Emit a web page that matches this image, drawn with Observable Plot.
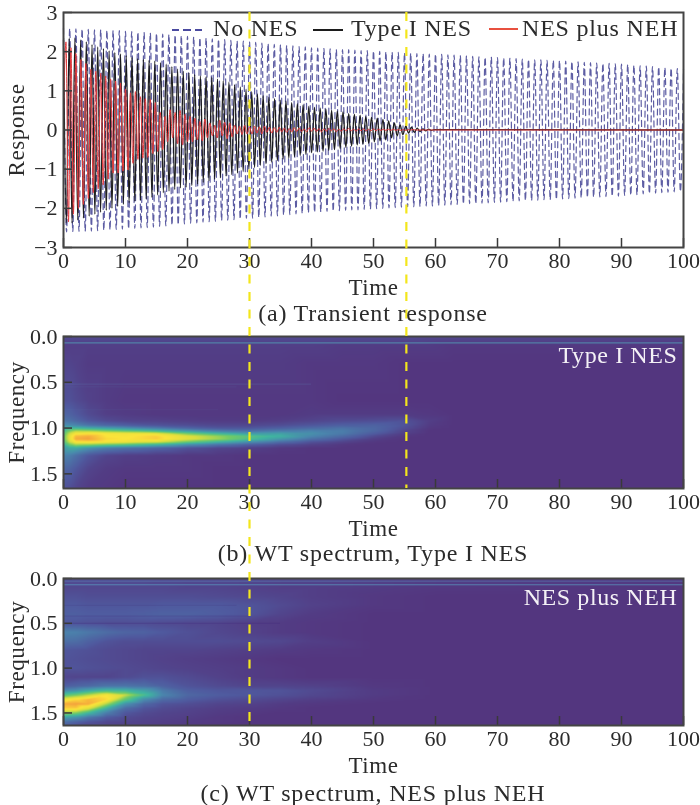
<!DOCTYPE html>
<html><head><meta charset="utf-8">
<script src="https://cdn.jsdelivr.net/npm/d3@7"></script>
<script src="https://cdn.jsdelivr.net/npm/@observablehq/plot@0.6"></script>
<style>
html,body{margin:0;padding:0;background:#fff}
#page{position:relative;width:700px;height:805px;overflow:hidden;font-family:"Liberation Serif",serif;color:#2b2b2b;filter:blur(.35px)}
#page svg{position:absolute;left:0;background:transparent;overflow:visible}
.cap,.leg{position:absolute;white-space:nowrap;font-size:24px;letter-spacing:.8px;line-height:26px}
.cap{left:373px;transform:translateX(-50%)}
.sw{position:absolute;height:1.6px}
</style></head><body><div id="page"></div>
<script>
const xTicks=[0,10,20,30,40,50,60,70,80,90,100];
const responseTicks=[-3,-2,-1,0,1,2,3];
const freqTicks=[0,0.5,1,1.5];
const guideLines=[{x:30,top:12,bottom:722},{x:55.3,top:12,bottom:488}];

const tNoNes=[0,.5,1,1.5,2,2.5,3,3.5,4,4.5,5,5.5,6,6.5,7,7.5,8,8.5,9,9.5,10,10.5,11,11.5,12,12.5,13,13.5,14,14.5,15,15.5,16,16.5,17,17.5,18,18.5,19,19.5,20,20.5,21,21.5,22,22.5,23,23.5,24,24.5,25,25.5,26,26.5,27,27.5,28,28.5,29,29.5,30,30.5,31,31.5,32,32.5,33,33.5,34,34.5,35,35.5,36,36.5,37,37.5,38,38.5,39,39.5,40,40.5,41,41.5,42,42.5,43,43.5,44,44.5,45,45.5,46,46.5,47,47.5,48,48.5,49,49.5,50,50.5,51,51.5,52,52.5,53,53.5,54,54.5,55,55.5,56,56.5,57,57.5,58,58.5,59,59.5,60,60.5,61,61.5,62,62.5,63,63.5,64,64.5,65,65.5,66,66.5,67,67.5,68,68.5,69,69.5,70,70.5,71,71.5,72,72.5,73,73.5,74,74.5,75,75.5,76,76.5,77,77.5,78,78.5,79,79.5,80,80.5,81,81.5,82,82.5,83,83.5,84,84.5,85,85.5,86,86.5,87,87.5,88,88.5,89,89.5,90,90.5,91,91.5,92,92.5,93,93.5,94,94.5,95,95.5,96,96.5,97,97.5,98,98.5,99,99.5,100];
const noNes=[2.6,-2.6,2.59,-2.59,2.58,-2.59,2.58,-2.58,2.57,-2.58,2.56,-2.57,2.56,-2.56,2.55,-2.55,2.54,-2.54,2.54,-2.53,2.52,
-2.52,2.51,-2.51,2.5,-2.5,2.49,-2.49,2.48,-2.48,2.47,-2.46,2.45,-2.45,2.44,-2.43,2.43,-2.42,2.41,-2.4,2.39,
-2.38,2.38,-2.37,2.36,-2.35,2.35,-2.34,2.33,-2.33,2.32,-2.31,2.31,-2.3,2.29,-2.29,2.28,-2.27,2.27,-2.26,2.25,
-2.25,2.24,-2.23,2.22,-2.22,2.21,-2.2,2.19,-2.19,2.18,-2.17,2.16,-2.16,2.15,-2.14,2.13,-2.13,2.12,-2.11,2.1,
-2.1,2.09,-2.09,2.08,-2.08,2.07,-2.07,2.06,-2.06,2.05,-2.05,2.05,-2.04,2.04,-2.04,2.03,-2.03,2.03,-2.02,2.02,
-2.01,2.01,-2,2,-1.99,1.99,-1.98,1.98,-1.97,1.97,-1.96,1.96,-1.96,1.95,-1.95,1.95,-1.94,1.94,-1.94,1.94,
-1.93,1.93,-1.92,1.92,-1.91,1.91,-1.9,1.9,-1.89,1.89,-1.88,1.88,-1.88,1.87,-1.87,1.86,-1.86,1.86,-1.85,1.85,
-1.84,1.84,-1.83,1.83,-1.82,1.82,-1.81,1.81,-1.8,1.8,-1.8,1.79,-1.79,1.79,-1.78,1.78,-1.78,1.78,-1.77,1.77,
-1.76,1.76,-1.75,1.75,-1.74,1.74,-1.73,1.73,-1.72,1.72,-1.71,1.71,-1.71,1.7,-1.7,1.7,-1.69,1.69,-1.69,1.68,
-1.67,1.67,-1.66,1.65,-1.65,1.64,-1.63,1.63,-1.62,1.62,-1.61,1.61,-1.6,1.59,-1.59,1.58,-1.58,1.57,-1.57,1.56];

const tTypeI=[0,.46,.92,1.38,1.84,2.3,2.76,3.22,3.68,4.14,4.6,5.06,5.52,5.98,6.44,6.9,7.36,7.82,8.28,8.74,9.2,9.66,10.12,10.58,11.04,11.5,11.96,12.42,12.88,13.34,13.8,14.26,14.72,15.18,15.64,16.1,16.56,17.02,17.48,17.94,18.4,18.86,19.32,19.78,20.24,20.7,21.16,21.62,22.08,22.54,23,23.46,23.92,24.38,24.84,25.3,25.76,26.22,26.68,27.14,27.6,28.06,28.52,28.98,29.44,29.9,30.36,30.82,31.28,31.74,32.2,32.66,33.12,33.58,34.04,34.5,34.96,35.42,35.88,36.34,36.8,37.26,37.72,38.18,38.64,39.1,39.56,40.02,40.48,40.94,41.4,41.86,42.32,42.78,43.24,43.7,44.16,44.62,45.08,45.54,46,46.46,46.92,47.38,47.84,48.3,48.76,49.22,49.68,50.14,50.6,51.06,51.52,51.98,52.44,52.9,53.36,53.82,54.28,54.74,55.2,55.66,56.12,56.58,57.04,57.5,57.96,58.42,58.88,59.34,59.8,100];
const typeI=[2.3,-2.38,2.34,-2.38,2.35,-2.3,2.3,-2.25,2.25,-2.2,2.18,-2.15,2.12,-2.1,2.08,-2.05,2.02,-2,1.98,-1.95,1.94,-1.9,
1.9,-1.86,1.86,-1.82,1.82,-1.8,1.8,-1.76,1.78,-1.72,1.76,-1.66,1.72,-1.6,1.68,-1.56,1.62,-1.52,1.56,-1.48,1.5,-1.46,
1.46,-1.42,1.42,-1.38,1.38,-1.34,1.36,-1.3,1.34,-1.26,1.3,-1.22,1.26,-1.18,1.22,-1.14,1.16,-1.1,1.1,-1.06,1.04,-1,
.98,-.96,.92,-.9,.88,-.86,.84,-.82,.8,-.78,.76,-.74,.74,-.72,.7,-.68,.67,-.65,.64,-.62,.6,-.58,
.58,-.56,.56,-.54,.53,-.52,.5,-.5,.48,-.47,.46,-.44,.42,-.41,.4,-.38,.38,-.36,.35,-.34,.32,-.3,
.3,-.28,.27,-.25,.23,-.2,.18,-.15,.13,-.12,.1,-.08,.07,-.06,.05,-.04,.03,-.02,.02,-.01,.01,0];

const tNeh=[0,.4,.8,1.2,1.6,2,2.4,2.8,3.2,3.6,4,4.4,4.8,5.2,5.6,6,6.4,6.8,7.2,7.6,8,8.4,8.8,9.2,9.6,10,10.4,10.8,11.2,11.6,12,12.4,12.8,13.2,13.6,14,14.4,14.8,15.2,15.6,16,16.4,16.8,17.2,17.6,18,18.4,18.8,19.2,19.6,20,20.4,20.8,21.2,21.6,22,22.4,22.8,23.2,23.6,24,24.4,24.8,25.2,25.6,26,26.4,26.8,27.2,27.6,28,28.4,28.8,29.2,29.6,30,30.4,30.8,31.2,31.6,32,32.4,32.8,33.2,33.6,34,34.4,34.8,35.2,35.6,36,36.4,36.8,37.2,37.6,38,38.4,38.8,39.2,39.6,40,40.4,40.8,41.2,41.6,42,42.4,42.8,43.2,43.6,44,44.4,44.8,45.2,45.6,46,46.4,46.8,47.2,47.6,48,48.4,48.8,49.2,49.6,50,50.4,50.8,51.2,51.6,52,52.4,52.8,53.2,53.6,54,54.4,54.8,55.2,55.6,56,56.4,56.8,57.2,57.6,58,58.4,58.8,59.2,59.6,60,100];
const neh=[.4,2.25,-2.35,2.1,-2.15,1.95,-2,1.8,-1.9,1.7,-1.75,1.55,-1.6,1.5,-1.5,1.45,-1.4,1.38,-1.25,1.3,-1.1,1.25,-1.1,1.2,-1.05,1.05,
-1.02,.95,-.85,.98,-.75,.85,-.72,.8,-.7,.78,-.6,.7,-.55,.45,-.5,.35,-.3,.52,-.2,.45,-.35,.5,-.38,.4,-.3,
.35,-.3,.3,-.25,.22,-.28,.28,-.2,.18,-.15,.12,-.2,.25,-.15,.2,-.22,.18,-.18,.12,-.1,.1,-.12,.12,-.1,.08,
-.1,.1,-.08,.08,-.1,.1,-.06,.07,-.08,.06,-.06,.07,-.05,.05,-.06,.04,-.05,.06,-.04,.05,-.04,.03,-.05,.06,-.03,
.05,-.04,.04,-.05,.03,-.03,.04,-.02,.03,-.04,.02,-.03,.03,-.02,.04,-.02,.02,-.03,.03,-.02,.03,-.02,.02,-.02,.03,
-.02,.02,-.01,.02,-.01,.02,-.01,.02,-.01,.01,-.01,.01,-.01,.01,0,.01,0,0,0,0,0,0,0,0,0,0];

const heatStops=[0,.12,.28,.45,.6,.75,.88,1];
const heatColors=["#53367f","#4f5a9f","#4a86ad","#3fb5a0","#6fca68","#d8de3e","#fbe43a","#f4a23c"];

const wtTimeB=[0,1,2,4,7,10,15,20,25,30,35,40,45,50,55,59,63,100];
const wtFreqB=[0,.1,.3,.7,.85,.92,.97,1,1.03,1.06,1.09,1.12,1.15,1.18,1.22,1.3,1.45,1.66];
const wtTypeI=[
[.07,.07,.07,.07,.07,.07,.07,.07,.07,.07,.07,.07,.07,.07,.07,.06,.06,.05],
[.03,.03,.03,.03,.03,.03,.03,.03,.03,.03,.03,.03,.02,.02,.02,.02,.01,.01],
[.05,.05,.04,.02,.02,.02,.02,.02,.02,.02,.02,.01,.01,.01,0,0,0,0],
[.09,.09,.07,.04,.02,.01,.01,.01,.01,.01,.01,.01,0,0,0,0,0,0],
[.16,.15,.12,.07,.03,.02,.01,.01,.01,.01,.01,.02,.02,.02,.02,.01,0,0],
[.22,.2,.17,.11,.07,.05,.04,.03,.02,.02,.03,.05,.07,.08,.09,.03,0,0],
[.3,.3,.28,.22,.17,.14,.1,.08,.06,.06,.08,.11,.14,.15,.1,.02,0,0],
[.38,.44,.46,.42,.37,.32,.24,.16,.11,.11,.14,.18,.21,.17,.08,.01,0,0],
[.46,.6,.68,.66,.6,.55,.46,.34,.24,.2,.24,.27,.25,.17,.05,0,0,0],
[.52,.74,.86,.88,.86,.84,.8,.6,.46,.36,.38,.32,.24,.13,.03,0,0,0],
[.56,.8,.96,.98,.88,.87,.92,.78,.66,.54,.44,.28,.18,.07,.01,0,0,0],
[.56,.8,.98,1,.9,.88,.92,.78,.66,.5,.34,.2,.11,.03,0,0,0,0],
[.52,.74,.88,.9,.86,.84,.78,.6,.46,.32,.2,.1,.05,.01,0,0,0,0],
[.44,.6,.68,.66,.6,.56,.46,.32,.22,.14,.08,.04,.01,0,0,0,0,0],
[.34,.4,.4,.32,.24,.2,.15,.09,.05,.03,.01,0,0,0,0,0,0,0],
[.26,.25,.2,.11,.05,.03,.02,.01,.01,0,0,0,0,0,0,0,0,0],
[.16,.15,.11,.05,.02,.01,.01,.01,0,0,0,0,0,0,0,0,0,0],
[.1,.08,.05,.02,.01,0,0,0,0,0,0,0,0,0,0,0,0,0]];

const wtTimeC=[0,2,4,7,10,13,16,20,25,30,35,40,50,60,100];
const wtFreqC=[0,.1,.2,.3,.4,.5,.6,.7,.8,.9,1,1.1,1.2,1.25,1.3,1.35,1.4,1.45,1.5,1.55,1.6,1.66];
const wtNeh=[
[.08,.08,.08,.08,.08,.08,.07,.07,.07,.07,.06,.06,.05,.04,.02],
[.06,.06,.06,.06,.06,.06,.06,.05,.05,.04,.03,.03,.02,.01,0],
[.09,.09,.08,.08,.08,.08,.08,.08,.07,.06,.05,.03,.01,0,0],
[.12,.12,.11,.11,.11,.11,.12,.12,.12,.1,.07,.04,.01,0,0],
[.14,.14,.13,.13,.13,.14,.15,.15,.13,.1,.05,.02,0,0,0],
[.11,.1,.09,.08,.08,.08,.07,.06,.05,.03,.02,.01,0,0,0],
[.27,.26,.23,.19,.16,.15,.12,.09,.06,.04,.02,.01,0,0,0],
[.2,.19,.15,.1,.08,.08,.08,.08,.08,.07,.06,.03,0,0,0],
[.11,.1,.09,.07,.06,.05,.05,.05,.04,.03,.02,.01,0,0,0],
[.1,.09,.08,.07,.06,.05,.04,.03,.02,.01,0,0,0,0,0],
[.1,.1,.09,.08,.07,.06,.05,.04,.03,.02,.01,0,0,0,0],
[.06,.05,.05,.05,.07,.09,.09,.07,.04,.02,.01,0,0,0,0],
[.14,.16,.18,.22,.22,.2,.15,.1,.07,.05,.05,.04,.01,0,0],
[.28,.32,.4,.48,.46,.38,.24,.14,.11,.11,.1,.07,.02,0,0],
[.52,.6,.7,.86,.72,.5,.28,.17,.13,.11,.09,.06,.02,0,0],
[.82,.9,.96,.9,.56,.3,.18,.13,.09,.07,.05,.03,.01,0,0],
[.98,1,.98,.68,.32,.17,.1,.08,.05,.04,.02,.01,0,0,0],
[.92,.92,.78,.42,.18,.1,.07,.05,.03,.02,.01,0,0,0,0],
[.66,.62,.46,.25,.11,.07,.05,.04,.02,.01,0,0,0,0,0],
[.38,.32,.22,.12,.07,.05,.04,.03,.01,0,0,0,0,0,0],
[.2,.15,.1,.06,.05,.04,.03,.02,.01,0,0,0,0,0,0],
[.1,.06,.04,.04,.03,.03,.02,.01,0,0,0,0,0,0,0]];

const streaksB=[{f:.07,to:100,c:"#53a3b8",o:.8},{f:.52,to:40,c:"#5f7cb0",o:.3},{f:.55,to:28,c:"#5f7cb0",o:.15},{f:.8,to:25,c:"#5f7cb0",o:.1}];
const streaksC=[{f:.07,to:100,c:"#5a9cc0",o:.7},{f:.03,to:100,c:"#5a80b5",o:.5},{f:.5,to:35,c:"#40277a",o:.3},{f:.42,to:30,c:"#40277a",o:.2},{f:.3,to:28,c:"#40277a",o:.15}];

const page=document.getElementById("page");
const FONT={fontFamily:"'Liberation Serif',serif",fontSize:"23px",letterSpacing:".6px",background:"transparent",color:"#2b2b2b",overflow:"visible"};
const INK="#3a3a3a";

function axes(yTicks,yLabel,yFmt){
  return [
    Plot.axisX({ticks:xTicks,tickSize:-9,tickPadding:14,label:"Time",labelAnchor:"center",labelArrow:"none",labelOffset:47,tickFormat:d=>d,stroke:INK,strokeWidth:1.5}),
    Plot.axisY({ticks:yTicks,tickSize:-9,tickPadding:15,label:yLabel,labelAnchor:"center",labelArrow:"none",labelOffset:56,tickFormat:yFmt,stroke:INK,strokeWidth:1.5}),
    Plot.frame({stroke:"#444",strokeWidth:2})
  ];
}
function place(svg,top){
  svg.querySelectorAll('[aria-label="x-axis tick label"],[aria-label="y-axis tick label"]').forEach(g=>{g.style.letterSpacing="0";g.style.fontSize="22px";});
  svg.style.top=top+"px";page.appendChild(svg);
}

// (a) transient response
const series=[["#34348c",noNes,tNoNes,"6,4",1.2,.8],["#141414",typeI,tTypeI,null,1.3,.95],["#e2383a",neh,tNeh,null,1,1]];
place(Plot.plot({width:700,height:297,marginLeft:63,marginRight:17,marginTop:12,marginBottom:50,style:FONT,
  x:{domain:[0,100]},y:{domain:[-3,3]},
  marks:[
    ...series.map(([c,v,t,dash,w,o])=>Plot.line(d3.zip(t,v),{x:d=>d[0],y:d=>d[1],stroke:c,strokeWidth:w,strokeDasharray:dash,strokeOpacity:o,curve:"monotone-x"})),
    ...axes(responseTicks,"Response",d=>d===0?"0":d3.format("d")(d).replace("-","−"))
  ]}),0);

function heat(rowsM,ts,fs,fMax,streaks,height,top,label){
  const rows=[];
  fs.forEach((f,i)=>ts.forEach((t,j)=>rows.push({t,f,v:rowsM[i][j]})));
  place(Plot.plot({width:700,height,marginLeft:63,marginRight:17,marginTop:12,marginBottom:50,style:FONT,
    x:{domain:[0,100]},y:{domain:[0,fMax],reverse:true},
    color:{type:"linear",domain:heatStops,range:heatColors,clamp:true},
    marks:[
      Plot.raster(rows,{x:"t",y:"f",fill:"v",interpolate:"barycentric",pixelSize:1,x1:0,x2:100,y1:0,y2:fMax}),
      Plot.ruleY(streaks,{y:"f",x1:0,x2:"to",stroke:"c",strokeOpacity:"o",strokeWidth:1}),
      Plot.text([label],{frameAnchor:"top-right",dx:-6,dy:9,fill:"#f4f1f6",text:d=>d,fontSize:24}),
      ...axes(freqTicks,"Frequency",d3.format(".1f"))
    ]}),top);
}
heat(wtTypeI,wtTimeB,wtFreqB,1.66,streaksB,214,324,"Type I NES");
heat(wtNeh,wtTimeC,wtFreqC,1.64,streaksC,209,566,"NES plus NEH");

// dashed guide lines running across the panels
place(Plot.plot({width:700,height:805,marginLeft:63,marginRight:17,marginTop:0,marginBottom:0,style:{background:"transparent",pointerEvents:"none"},
  x:{domain:[0,100],axis:null},y:{domain:[805,0],axis:null},
  marks:[Plot.ruleX(guideLines,{x:"x",y1:"top",y2:"bottom",stroke:"#f3e61c",strokeWidth:2.2,strokeDasharray:"9,8.5"})]}),0);

// legend and captions
function text(s,left,top,cls){const d=document.createElement("div");d.className=cls;d.textContent=s;d.style.top=top+"px";if(left!=null)d.style.left=left+"px";page.appendChild(d);}
function swatch(left,w,top,bg){const d=document.createElement("div");d.className="sw";d.style.cssText+=`left:${left}px;width:${w}px;top:${top}px;background:${bg}`;page.appendChild(d);}
const legendNames=["No NES","Type I NES","NES plus NEH"];
swatch(172,30,29,"repeating-linear-gradient(90deg,#4a4aa0 0 7px,transparent 7px 11.5px)");text(legendNames[0],213,15,"leg");
swatch(313,30,29,"#1c1c1c");text(legendNames[1],351,15,"leg");
swatch(489,29,28,"#e8503f");text(legendNames[2],522,15,"leg");
const captions=["(a) Transient response","(b) WT spectrum, Type I NES","(c) WT spectrum, NES plus NEH"];
text(captions[0],null,300,"cap");text(captions[1],null,540,"cap");text(captions[2],null,780,"cap");
</script></body></html>
